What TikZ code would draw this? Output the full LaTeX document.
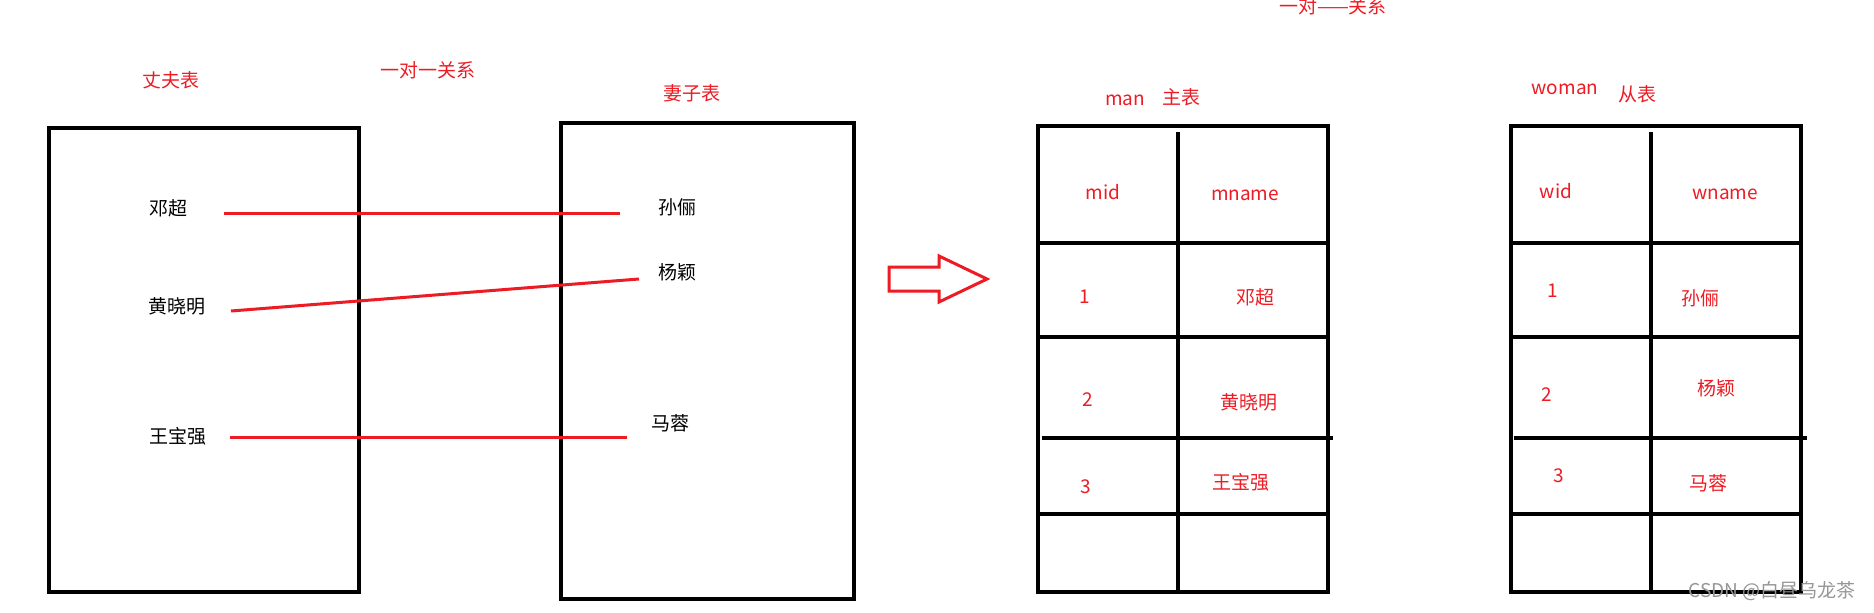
\documentclass[tikz,border=0pt]{standalone}
\usepackage{fontspec}
\setmainfont{Noto Sans CJK SC}
\definecolor{pred}{RGB}{237,28,36}
\definecolor{wmgray}{RGB}{150,150,150}
\begin{document}
\begin{tikzpicture}[x=1pt,y=-1pt,
  lbl/.style={text=pred,font=\fontsize{19}{19}\selectfont,inner sep=0pt},
  blk/.style={text=black,font=\fontsize{19}{19}\selectfont,inner sep=0pt},
  frame/.style={draw=black,line width=3.5pt},
  link/.style={draw=pred,line width=3pt},
  hollowarrow/.style={draw=pred,line width=3pt,line join=miter}]
\useasboundingbox[fill=white] (0,0) rectangle (1874,613);

% ---------- left part: two tables as boxes ----------
\node[lbl] (husbandT) at (171,80) {丈夫表};
\node[lbl] (relA) at (428,70) {一对一关系};
\node[lbl] (wifeT) at (692,93) {妻子表};

\draw[frame] (49,128) rectangle (359,592);
\draw[frame] (561,123) rectangle (854,599);

\node[blk] (h1) at (168,208) {邓超};
\node[blk] (h2) at (177,306) {黄晓明};
\node[blk] (h3) at (178,436) {王宝强};
\node[blk] (w1) at (677,207) {孙俪};
\node[blk] (w2) at (677,272) {杨颖};
\node[blk] (w3) at (670,423) {马蓉};

\coordinate (h1e) at (224,213);
\coordinate (w1e) at (620,213);
\coordinate (h2e) at (231,311);
\coordinate (w2e) at (639,279);
\coordinate (h3e) at (230,437);
\coordinate (w3e) at (627,437);
\draw[link] (h1e) -- (w1e);
\draw[link] (h2e) -- (w2e);
\draw[link] (h3e) -- (w3e);

% ---------- hollow arrow ----------
\draw[hollowarrow] (889,267) -- (939,267) -- (939,256) -- (987,279)
  -- (939,302) -- (939,291) -- (889,291) -- cycle;

% ---------- right part: relational tables ----------
\node[lbl] (relB) at (1333,6) {一对——关系};
\node[lbl] (manT) at (1125,100) {man};
\node[lbl] (manM) at (1181,97) {主表};
\node[lbl] (womanT) at (1565,89) {woman};
\node[lbl] (womanS) at (1637,94) {从表};

% man table
\draw[frame] (1038,126) rectangle (1328,592);
\draw[frame] (1178,132) -- (1178,592);
\draw[frame] (1036,243) -- (1328,243);
\draw[frame] (1038,337) -- (1328,337);
\draw[frame] (1042,438) -- (1333,438);
\draw[frame] (1038,514) -- (1328,514);

\node[lbl] (mid) at (1103,192) {mid};
\node[lbl] (mname) at (1245,195) {mname};
\node[lbl] (m1) at (1085,297) {1};
\node[lbl] (m1n) at (1255,297) {邓超};
\node[lbl] (m2) at (1088,400) {2};
\node[lbl] (m2n) at (1249,402) {黄晓明};
\node[lbl] (m3) at (1086,487) {3};
\node[lbl] (m3n) at (1241,482) {王宝强};

% woman table
\draw[frame] (1511,126) rectangle (1801,592);
\draw[frame] (1651,132) -- (1651,592);
\draw[frame] (1509,243) -- (1801,243);
\draw[frame] (1511,337) -- (1801,337);
\draw[frame] (1514,438) -- (1807,438);
\draw[frame] (1511,514) -- (1801,514);

\node[lbl] (wid) at (1556,191) {wid};
\node[lbl] (wname) at (1725,194) {wname};
\node[lbl] (n1) at (1553,291) {1};
\node[lbl] (n1n) at (1700,298) {孙俪};
\node[lbl] (n2) at (1547,395) {2};
\node[lbl] (n2n) at (1716,388) {杨颖};
\node[lbl] (n3) at (1559,476) {3};
\node[lbl] (n3n) at (1708,483) {马蓉};

% watermark
\node[text=wmgray,font=\fontsize{19}{19}\selectfont,inner sep=0pt] (wm) at (1772,591) {CSDN @白昼乌龙茶};
\end{tikzpicture}
\end{document}
